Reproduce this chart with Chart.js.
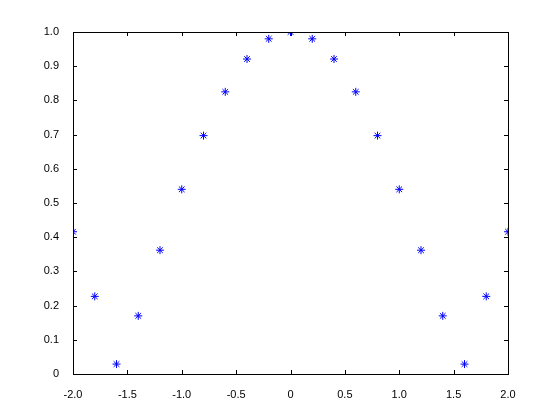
<!DOCTYPE html>
<html><head><meta charset="utf-8">
<script src="https://cdn.jsdelivr.net/npm/chart.js@4/dist/chart.umd.min.js"></script>
<style>html,body{margin:0;background:#fff}#w{width:560px;height:420px}</style>
</head><body><div id="w"><canvas id="c"></canvas></div>
<script>
const xValues = [-2,-1.8,-1.6,-1.4,-1.2,-1,-0.8,-0.6,-0.4,-0.2,0,0.2,0.4,0.6,0.8,1,1.2,1.4,1.6,1.8,2];
const yValues = [0.416,0.227,0.029,0.170,0.362,0.540,0.697,0.825,0.921,0.980,1.000,0.980,0.921,0.825,0.697,0.540,0.362,0.170,0.029,0.227,0.416];
const xTicks = [-2,-1.5,-1,-0.5,0,0.5,1,1.5,2];
const yTicks = [0,0.1,0.2,0.3,0.4,0.5,0.6,0.7,0.8,0.9,1];
const frame = {id:'frame', afterDraw(ch){const a=ch.chartArea,c=ch.ctx;c.save();c.strokeStyle='#000';c.lineWidth=1;c.strokeRect(a.left+0.5,a.top+0.5,a.right-a.left,a.bottom-a.top);
 c.beginPath();
 xTicks.forEach(v=>{const p=Math.round(ch.scales.x.getPixelForValue(v))+0.5;c.moveTo(p,a.bottom);c.lineTo(p,a.bottom-4);c.moveTo(p,a.top);c.lineTo(p,a.top+4);});
 yTicks.forEach(v=>{const p=Math.round(ch.scales.y.getPixelForValue(v))+0.5;c.moveTo(a.left,p);c.lineTo(a.left+4,p);c.moveTo(a.right,p);c.lineTo(a.right-4,p);});
 c.stroke();c.restore();}};
const font={family:'Liberation Sans, Arial, sans-serif',size:11};
new Chart(document.getElementById('c'),{type:'scatter',
 data:{datasets:[{data:xValues.map((x,i)=>({x,y:yValues[i]})),pointStyle:'star',radius:4,borderColor:'#0000ff',backgroundColor:'#0000ff',borderWidth:1}]},
 options:{responsive:true,maintainAspectRatio:false,animation:false,
  layout:{padding:{left:0,top:32,right:52,bottom:0}},
  plugins:{legend:{display:false},tooltip:{enabled:false}},
  scales:{
   x:{type:'linear',min:-2,max:2,afterBuildTicks(s){s.ticks=xTicks.map(v=>({value:v}));},afterFit(s){s.height=46;},
      grid:{display:false},border:{display:false},ticks:{color:'#000',font,padding:6,maxRotation:0}},
   y:{type:'linear',min:0,max:1,afterBuildTicks(s){s.ticks=yTicks.map(v=>({value:v}));},afterFit(s){s.width=73;},
      grid:{display:false},border:{display:false},ticks:{color:'#000',font,padding:6}}
  }},plugins:[frame]});
</script></body></html>
